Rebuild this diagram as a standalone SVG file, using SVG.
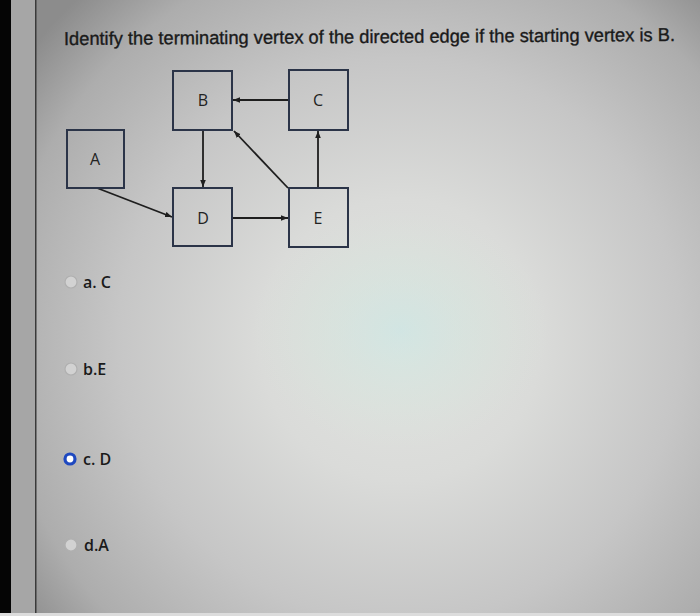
<svg xmlns="http://www.w3.org/2000/svg" width="700" height="616" viewBox="0 0 700 616">
<defs>
<radialGradient id="bg" cx="400" cy="340" r="470" gradientUnits="userSpaceOnUse">
<stop offset="0" stop-color="#e2e4e1"/>
<stop offset="0.3" stop-color="#dadbd9"/>
<stop offset="0.6" stop-color="#c6c6c6"/>
<stop offset="0.85" stop-color="#adadad"/>
<stop offset="1" stop-color="#8c8c8c"/>
</radialGradient>
<radialGradient id="tint" cx="0.5" cy="0.5" r="0.5">
<stop offset="0" stop-color="#c4e6e4" stop-opacity="0.55"/>
<stop offset="0.6" stop-color="#cfe8dc" stop-opacity="0.25"/>
<stop offset="1" stop-color="#d8e8dc" stop-opacity="0"/>
</radialGradient>
<marker id="ah" viewBox="0 0 10 10" refX="10" refY="5" markerWidth="7" markerHeight="7" orient="auto" markerUnits="userSpaceOnUse">
<path d="M0,1 L10,5 L0,9 z" fill="#1e1e1e"/>
</marker>
<style>
.box{fill:none;stroke:#2b3448;stroke-width:2}
.lbl{font-family:"Open Sans","Liberation Sans",sans-serif;font-size:16px;fill:#222;text-anchor:middle}
.edge{stroke:#1e1e1e;stroke-width:1.8;fill:none;marker-end:url(#ah)}
.opt{font-family:"Open Sans","Liberation Sans",sans-serif;font-size:16px;font-weight:600;fill:#1a1a1a}
.radio{fill:#d2d2d2;stroke:#b0b0b0;stroke-width:1.2}
</style>
</defs>
<rect width="700" height="616" fill="url(#bg)"/>
<ellipse cx="400" cy="330" rx="150" ry="120" fill="url(#tint)"/>
<rect x="0" y="0" width="11" height="616" fill="#050505"/>
<rect x="11" y="0" width="24" height="616" fill="#a6a6a6"/>
<rect x="35" y="0" width="1.5" height="616" fill="#3a3a3a"/>
<rect x="0" y="613" width="700" height="3" fill="#dcdcdc"/>

<text x="64" y="45" transform="rotate(-0.38 64 45)" textLength="611" lengthAdjust="spacingAndGlyphs" font-family="'Liberation Sans',Arial,sans-serif" font-size="18.5" fill="#1a1a1a" stroke="#1a1a1a" stroke-width="0.35">Identify the terminating vertex of the directed edge if the starting vertex is B.</text>

<g id="connectors">
<line class="edge" x1="289" y1="100" x2="233" y2="100"/>
<line class="edge" x1="203" y1="130" x2="203" y2="187"/>
<line class="edge" x1="97" y1="188" x2="172" y2="217"/>
<line class="edge" x1="288" y1="188" x2="234" y2="131"/>
<line class="edge" x1="318" y1="188" x2="318" y2="131"/>
<line class="edge" x1="232" y1="218" x2="288" y2="218"/>
</g>

<g id="node-B"><rect class="box" x="173" y="71" width="59" height="59"/><text class="lbl" x="203" y="106">B</text></g>
<g id="node-C"><rect class="box" x="289" y="70" width="59" height="60"/><text class="lbl" x="318" y="106">C</text></g>
<g id="node-A"><rect class="box" x="67" y="130" width="57" height="58"/><text class="lbl" x="95" y="165">A</text></g>
<g id="node-D"><rect class="box" x="173" y="188" width="59" height="58"/><text class="lbl" x="203" y="224">D</text></g>
<g id="node-E"><rect class="box" x="289" y="188" width="59" height="59"/><text class="lbl" x="318" y="224">E</text></g>

<g id="option-a"><circle class="radio" cx="71" cy="282" r="6"/><text class="opt" x="83" y="288">a. C</text></g>
<g id="option-b"><circle class="radio" cx="71" cy="369" r="6"/><text class="opt" x="83" y="375">b.E</text></g>
<g id="option-c"><circle cx="70" cy="459" r="5" fill="#fff" stroke="#1f49c0" stroke-width="3.2"/><text class="opt" x="83" y="465">c. D</text></g>
<g id="option-d"><circle class="radio" cx="71" cy="545" r="6"/><text class="opt" x="84" y="551">d.A</text></g>
</svg>
